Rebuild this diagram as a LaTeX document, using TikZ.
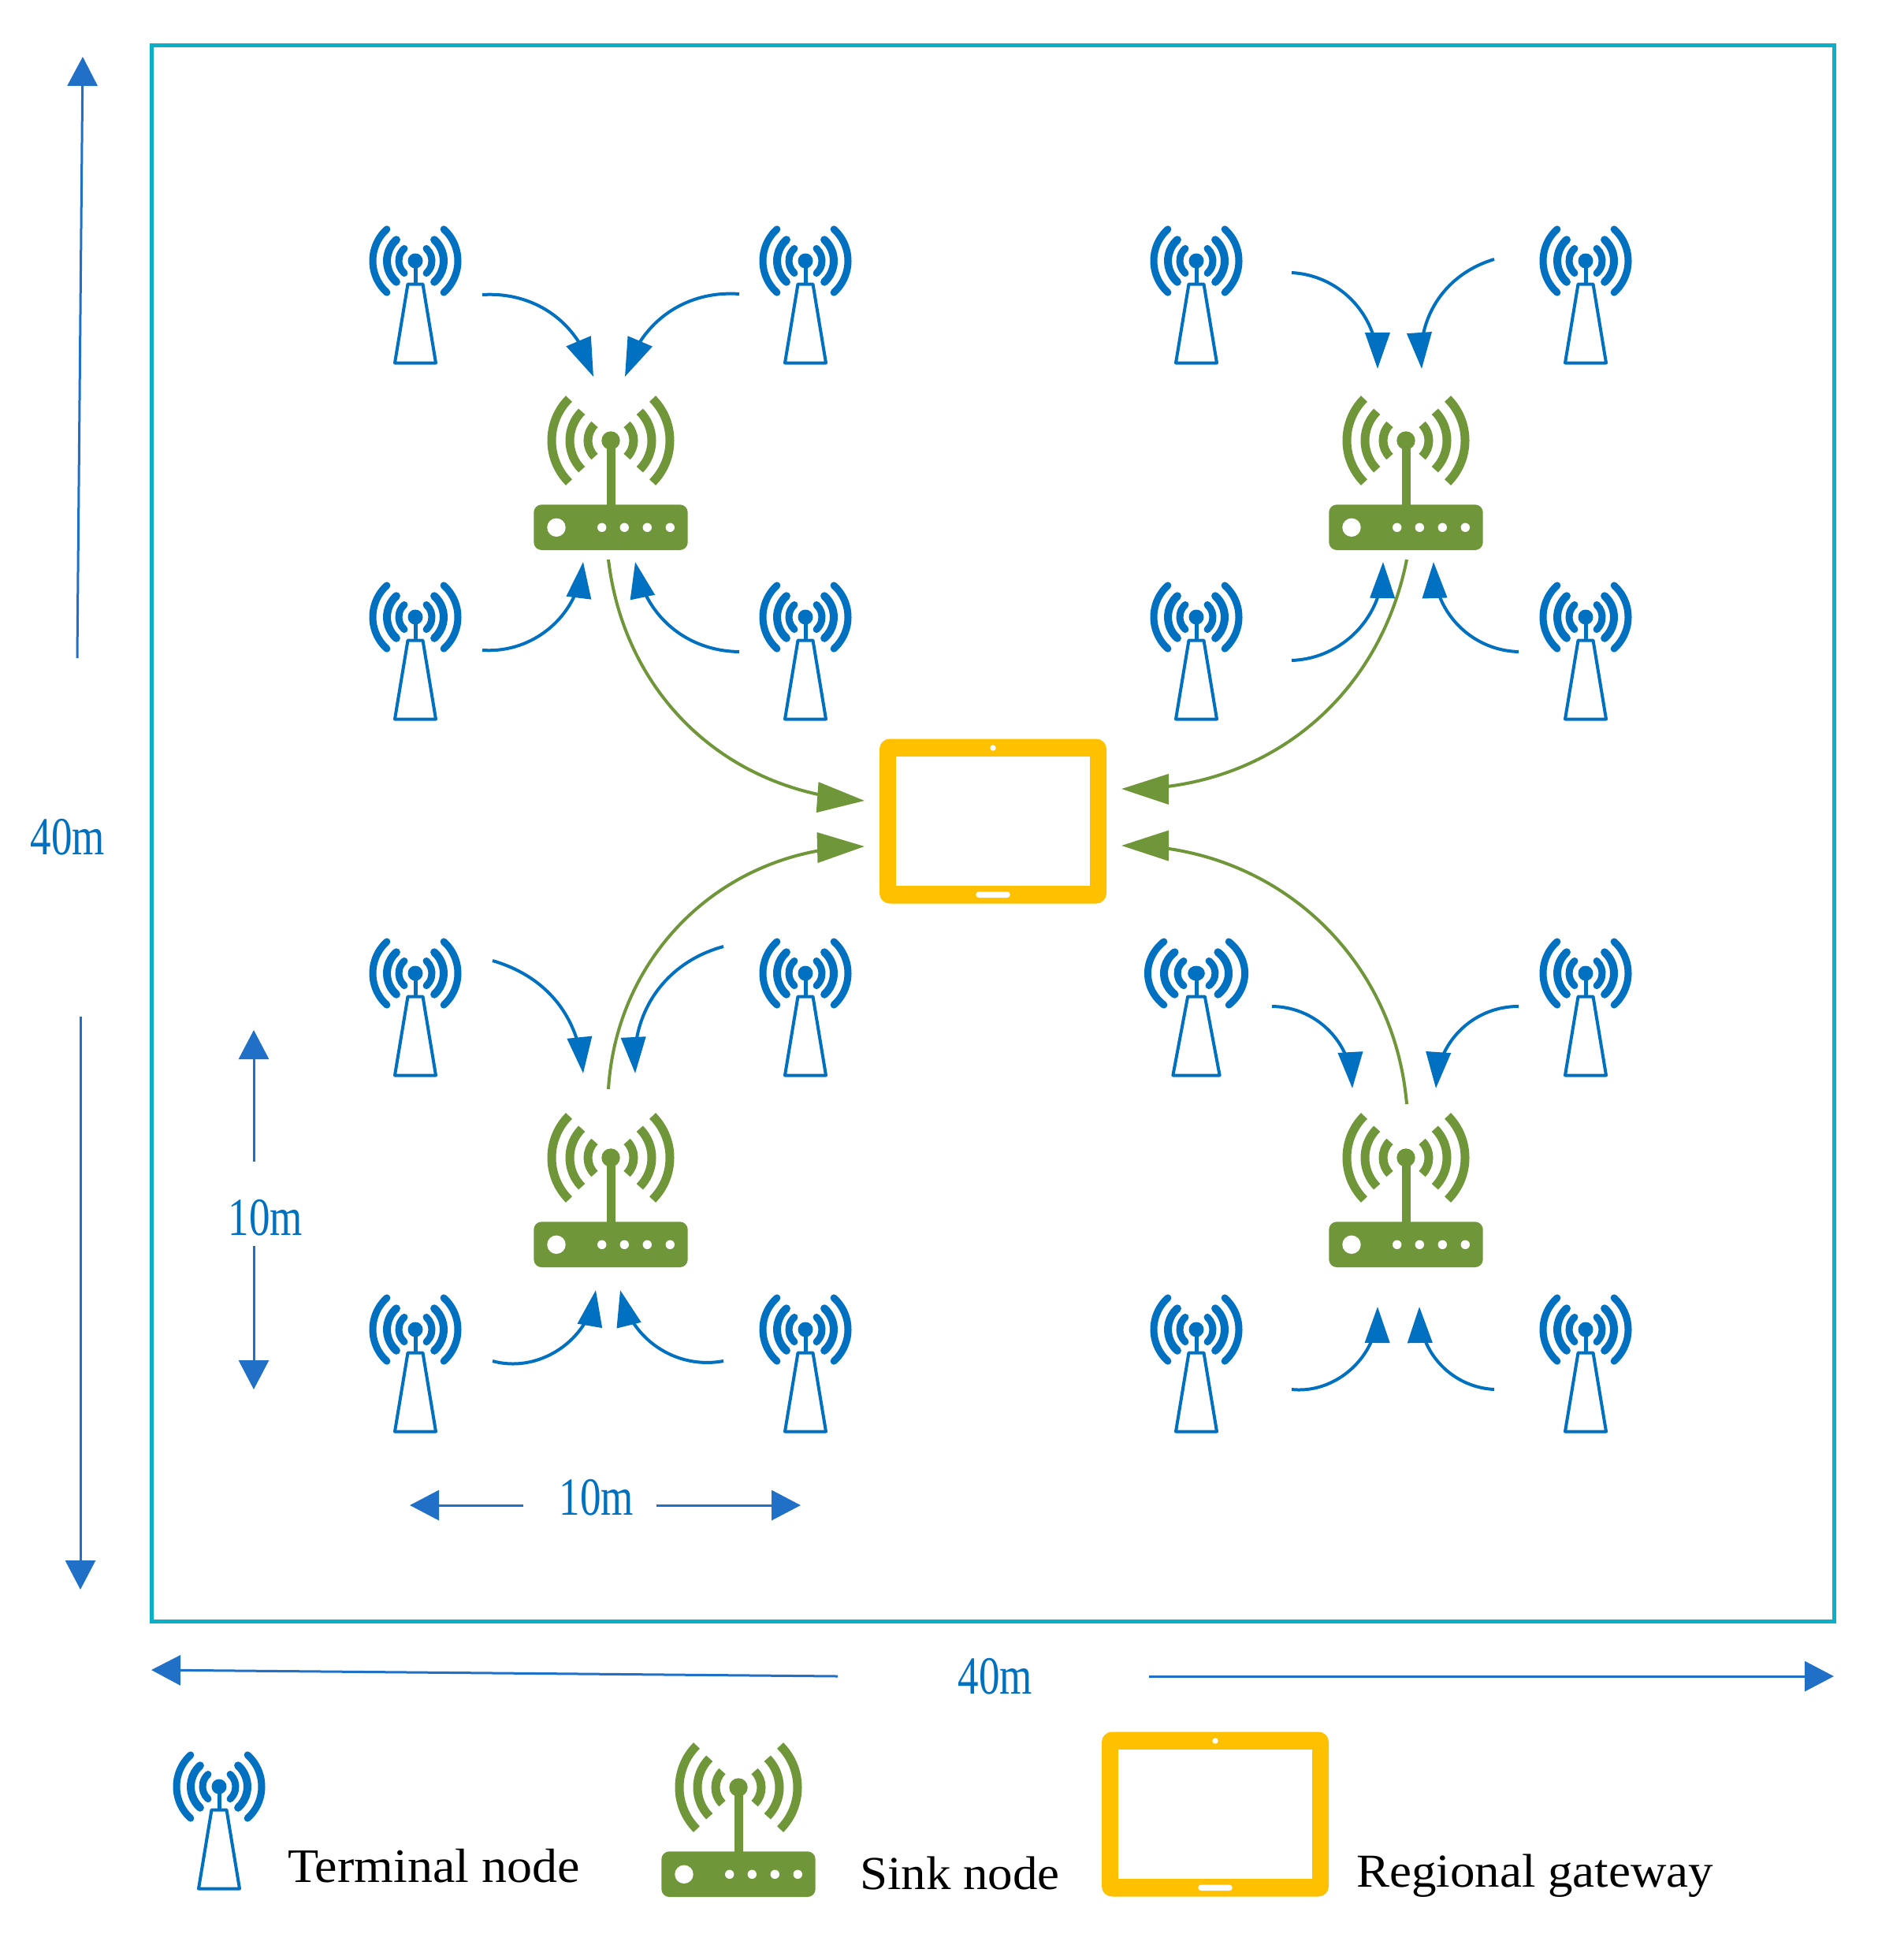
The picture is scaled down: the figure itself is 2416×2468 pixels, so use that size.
\documentclass[tikz,border=0pt]{standalone}
\usepackage{fontspec}
\usepackage{tikz}
\usetikzlibrary{arrows.meta, bending, calc}
\newfontfamily\dimfont[FakeStretch=0.78]{Liberation Serif}
\newfontfamily\legendfont[FakeStretch=1.05]{Liberation Serif}
\definecolor{myblue}{RGB}{0, 112, 192}
\definecolor{mydim}{RGB}{32, 112, 200}
\definecolor{mygreen}{RGB}{112, 150, 58}
\definecolor{myyellow}{RGB}{255, 192, 0}
\definecolor{myteal}{RGB}{10, 175, 200}

\tikzset{
	iconpt/.style={inner sep=0pt, minimum size=0pt},
	termflow/.style={draw=myblue, line width=4pt, -{Triangle[length=46pt,width=31pt,flex=0.3]}},
	bigflow/.style={draw=myblue, line width=4pt, -{Triangle[length=49pt,width=33pt]}},
	sinkflow/.style={draw=mygreen, line width=4pt, -{Triangle[length=60pt,width=38pt,flex=0.2]}},
	dimarrow/.style={draw=mydim, line width=3pt, -{Triangle[length=37pt,width=38pt]}},
	dimtext/.style={text=myblue, iconpt, font=\dimfont\fontsize{68}{80}\selectfont},
	legendtext/.style={iconpt, anchor=base west, font=\legendfont\fontsize{60}{72}\selectfont},
	terminal/.pic={
		\foreach \r/\w in {54/9pt, 36/10pt, 21/9pt} {
			\draw[myblue, line width=\w, line cap=round] (-48:\r) arc (-48:48:\r);
			\draw[myblue, line width=\w, line cap=round] (132:\r) arc (132:228:\r);
		}
		\fill[myblue] (0,0) circle (9.5);
		\draw[myblue, line width=5pt] (0,0) -- (0,29);
		\draw[myblue, line width=4pt, line join=round] (-9.5,29.5) -- (9.5,29.5) -- (26,129.5) -- (-26,129.5) -- cycle;
	},
	sink/.pic={
		\foreach \r in {75, 52, 29} {
			\draw[mygreen, line width=11pt] (-45:\r) arc (-45:45:\r);
			\draw[mygreen, line width=11pt] (135:\r) arc (135:225:\r);
		}
		\fill[mygreen] (0,0) circle (11.7);
		\draw[mygreen, line width=11pt] (0,0) -- (0,85);
		\fill[mygreen, rounded corners=10pt] (-97.7,81.3) rectangle (97.7,139);
		\fill[white] (-69,110.3) circle (11.7);
		\foreach \hx in {-11.3, 17.3, 46.3, 75.3} {
			\fill[white] (\hx,110.3) circle (5.7);
		}
	},
	gateway/.pic={
		\fill[myyellow, rounded corners=13pt] (-144,-104.5) rectangle (144,104.5);
		\fill[white] (-123,-82) rectangle (122.5,81.5);
		\fill[white] (0,-93) circle (3.7);
		\fill[white, rounded corners=3.6pt] (-21.7,89.5) rectangle (21.7,97);
	}
}

\begin{document}
\begin{tikzpicture}[x=1pt, y=-1pt]
	
	% page and area
	\path[use as bounding box, fill=white] (0,0) rectangle (2416,2468);
	\draw[myteal, line width=5pt] (192,57) rectangle (2327,2057);
	
	% terminal nodes
	\foreach \name/\x/\y in {
		t11/527/331, t12/1022/331, t13/1518/331, t14/2012/331,
		t21/527/783, t22/1022/783, t23/1518/783, t24/2012/783,
		t31/527/1235, t32/1022/1235, t34/2012/1235,
		t41/527/1687, t42/1022/1687, t43/1518/1687, t44/2012/1687,
		tlegend/278/2267
	}{
		\node[iconpt] (\name) at (\x,\y) {};
		\pic at (\name) {terminal};
	}
	\node[iconpt] (t33) at (1518,1235) {};
	\pic[xscale=1.14] at (t33) {terminal};
	
	% sink nodes
	\foreach \name/\x/\y in {
		s1/775/559, s2/1784/559, s3/775/1469, s4/1784/1469, slegend/937/2268
	}{
		\node[iconpt] (\name) at (\x,\y) {};
		\pic at (\name) {sink};
	}
	
	% gateways
	\foreach \name/\x/\y in {gw/1260/1042, gwlegend/1542/2302}{
		\node[iconpt] (\name) at (\x,\y) {};
		\pic at (\name) {gateway};
	}
	
	% terminal to sink, the two big ones first
	\draw[bigflow] ($(t11)+(85,43)$) to[bend left=40] ($(s1)+(-22,-81)$);
	\draw[bigflow] ($(t12)+(-84,42)$) to[bend left=-40] ($(s1)+(18,-81)$);
	\foreach \t/\ax/\ay/\s/\bx/\by/\b in {
		t21/85/42/s1/-35/154/-45,
		t22/-84/44/s1/31/154/40,
		t13/121/15/s2/-36/-91/45,
		t14/-116/-2/s2/20/-91/-40,
		t23/121/55/s2/-29/154/-45,
		t24/-85/44/s2/35/154/45,
		t31/98/-16/s3/-35/-107/35,
		t32/-104/-34/s3/31/-107/-40,
		t41/98/40/s3/-19/168/-50,
		t42/-104/40/s3/12/168/45,
		t33/96/42/s4/-68/-88/45,
		t34/-85/42/s4/38/-88/-45,
		t43/121/76/s4/-36/189/-50,
		t44/-116/76/s4/17/189/45
	}{
		\draw[termflow] ($(\t)+(\ax,\ay)$) to[bend left=\b] ($(\s)+(\bx,\by)$);
	}
	
	% sink to gateway
	\foreach \s/\ax/\ay/\bx/\by/\b in {
		s1/-3/151/-163/-26/-40,
		s2/1/151/163/-41/40,
		s3/-3/-87/-163/32/43,
		s4/1/-68/163/31/-43
	}{
		\draw[sinkflow] ($(\s)+(\ax,\ay)$) to[bend left=\b] ($(gw)+(\bx,\by)$);
	}
	
	% size labels
	\node[dimtext] (sideleft) at (86,1062) {40m};
	\node[dimtext] (sidebottom) at (1263,2127) {40m};
	\node[dimtext] (cellleft) at (337,1545) {10m};
	\node[dimtext] (cellbottom) at (757,1900) {10m};
	
	% size arrows
	\foreach \name/\x/\y in {
		a1/98/835, a2/105/72, a3/102/1290, a4/102/2017,
		a5/322/1474, a6/322/1307, a7/322/1581, a8/322/1763,
		a9/664/1910, a10/520/1910, a11/833/1910, a12/1016/1910,
		a13/1063/2127, a14/192/2119, a15/1458/2127, a16/2327/2127
	}{
		\coordinate (\name) at (\x,\y);
	}
	\foreach \a/\b in {a1/a2, a3/a4, a5/a6, a7/a8, a9/a10, a11/a12, a13/a14, a15/a16}{
		\draw[dimarrow] (\a) -- (\b);
	}
	
	% legend
	\node[legendtext, font=\legendfont\fontsize{61}{72}\selectfont] (lterm) at (365,2388) {Terminal node};
	\node[legendtext] (lsink) at (1091,2397) {Sink node};
	\node[legendtext] (lgate) at (1721,2394) {Regional gateway};
	
\end{tikzpicture}
\end{document}
